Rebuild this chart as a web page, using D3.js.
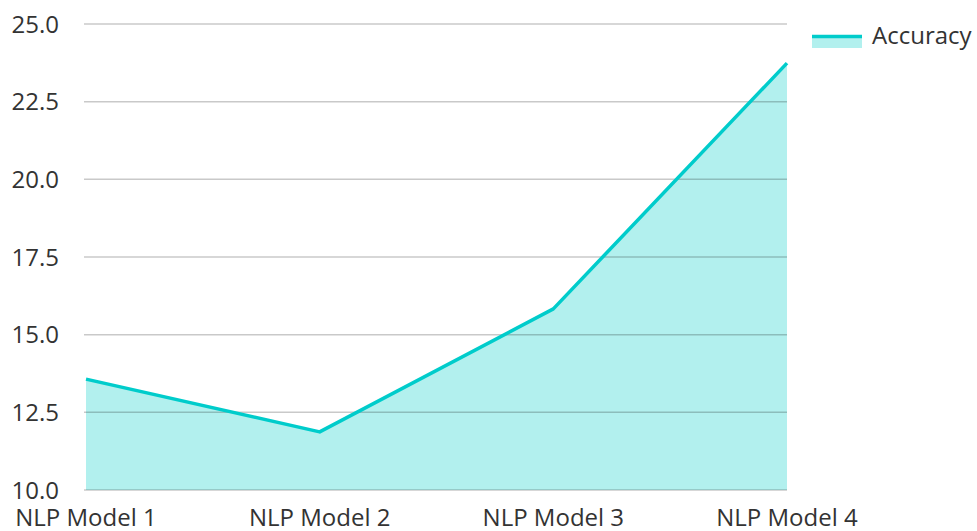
<!DOCTYPE html>
<html>
<head>
<meta charset="utf-8">
<script src="https://cdn.jsdelivr.net/npm/d3@7"></script>
<style>
  body { margin: 0; background: #fff; }
  text { font-family: "Open Sans", "Noto Sans", sans-serif; fill: #333; }
</style>
</head>
<body>
<svg id="chart"></svg>
<script>
// data
var models = ["NLP Model 1", "NLP Model 2", "NLP Model 3", "NLP Model 4"];
var accuracy = [13.57, 11.87, 15.83, 23.74];
var yTicks = [10, 12.5, 15, 17.5, 20, 22.5, 25];
var seriesName = "Accuracy";

var width = 977,
    height = 531;

var svg = d3.select("#chart")
    .attr("width", width)
    .attr("height", height);

var x = d3.scalePoint().domain(models).range([86, 787]);
var y = d3.scaleLinear().domain([10, 25]).range([490, 24]);

var rows = models.map((m, i) => ({ model: m, value: accuracy[i] }));

// area
var area = d3.area()
    .x(d => x(d.model))
    .y0(y(10))
    .y1(d => y(d.value));

svg.append("path")
    .datum(rows)
    .attr("d", area)
    .attr("fill", "#b2f0ee");

// grid lines on top of the fill
svg.append("g")
  .selectAll("line")
  .data(yTicks)
  .enter().append("line")
    .attr("x1", 84)
    .attr("x2", 787)
    .attr("y1", d => y(d))
    .attr("y2", d => y(d))
    .attr("stroke", "#000")
    .attr("stroke-opacity", 0.21)
    .attr("stroke-width", 1.5);

// line
var line = d3.line()
    .x(d => x(d.model))
    .y(d => y(d.value));

svg.append("path")
    .datum(rows)
    .attr("d", line)
    .attr("fill", "none")
    .attr("stroke", "#00cccb")
    .attr("stroke-width", 3.5)
    .attr("stroke-linejoin", "round");

// y labels
svg.append("g")
  .selectAll("text")
  .data(yTicks)
  .enter().append("text")
    .attr("x", 59)
    .attr("y", d => y(d) + 8.5)
    .attr("text-anchor", "end")
    .style("font-size", "24px")
    .text(d => d.toFixed(1));

// x labels
svg.append("g")
  .selectAll("text")
  .data(models)
  .enter().append("text")
    .attr("x", d => x(d))
    .attr("y", 526)
    .attr("text-anchor", "middle")
    .style("font-size", "24px")
    .text(d => d);

// legend
var lg = svg.append("g").attr("transform", "translate(812,35)");
lg.append("rect")
    .attr("x", 0).attr("y", 0)
    .attr("width", 50).attr("height", 13)
    .attr("fill", "#b2f0ee");
lg.append("line")
    .attr("x1", 0).attr("x2", 50)
    .attr("y1", 1.5).attr("y2", 1.5)
    .attr("stroke", "#00cccb")
    .attr("stroke-width", 3.5);
lg.append("text")
    .attr("x", 60)
    .attr("y", 9)
    .style("font-size", "24px")
    .text(seriesName);
</script>
</body>
</html>
